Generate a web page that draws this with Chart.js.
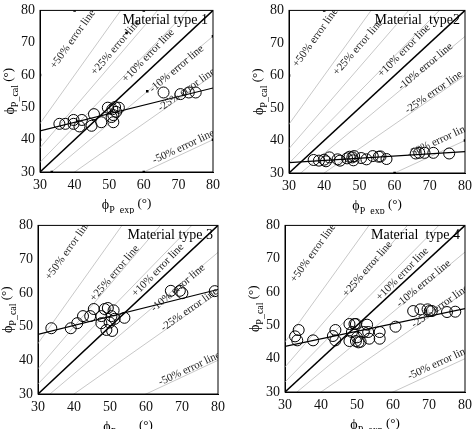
<!DOCTYPE html>
<html><head><meta charset="utf-8">
<script src="https://cdn.jsdelivr.net/npm/chart.js@4"></script>
<style>
body{margin:0;background:#fff;width:474px;height:429px;position:relative;overflow:hidden}
.p{position:absolute;width:237px;height:214px}
</style></head><body>
<div class="p" style="left:0;top:0"><canvas id="c1"></canvas></div>
<div class="p" style="left:237px;top:0"><canvas id="c2"></canvas></div>
<div class="p" style="left:0;top:215px"><canvas id="c3"></canvas></div>
<div class="p" style="left:237px;top:215px"><canvas id="c4"></canvas></div>
<script>
// data
const titles = ['Material type 1', 'Material  type2', 'Material type 3', 'Material  type 4'];
const ticks = [30, 40, 50, 60, 70, 80];
const errorPcts = [50, 25, 10, -10, -25, -50];

const points1 = [[35.6,44.9],[37.3,44.9],[39.7,46.1],[39.7,44.9],[41.4,44.1],[42.1,46.1],[44.9,44.3],[45.6,47.9],[47.7,45.4],[49.6,49.9],[50.9,49.4],[51.2,45.4],[51.2,47.6],[51.7,50.1],[52.8,49.9],[50.7,47],[52,48.6],[65.7,54.6],[70.6,54.1],[73,54.6],[75,54.6]];
const points2 = [[37,34],[38.5,33.8],[40,34.1],[40.5,33.6],[41.5,34.8],[43.8,34.2],[44.5,33.8],[46.5,34.5],[47.2,35],[48,34.8],[48.3,33.9],[48.5,35.2],[50.5,34.6],[52,34.2],[53.8,35.2],[55.5,35],[56,35.1],[57.7,34.3],[66,36],[67,36.2],[68.5,36.2],[71,36.2],[75.5,36]];
const points3 = [[33.7,49.5],[39.1,49.5],[40.9,51],[42.5,53.1],[44.5,53.1],[45.5,55.2],[47.6,53.1],[47.6,51],[48.5,55.2],[49,49],[49.4,55.5],[49.9,51.2],[50.4,53.1],[50.6,48.7],[51,54.8],[51.3,52.3],[54,52.6],[66.9,60.6],[69.4,60.6],[70.1,59.9],[79.1,60.5]];
const points4 = [[32.8,46.7],[33.4,45.5],[33.8,48.6],[37.8,45.5],[43.3,46.8],[44,48.6],[44,45.5],[47.9,50.4],[47.9,45.3],[48.6,48],[49.3,50.4],[49.7,45.3],[49.7,50.4],[50,46.4],[50.4,44.9],[51,45.1],[51.9,48],[52.8,50.2],[53.1,48],[53.4,46],[56.3,48],[56.3,46],[60.7,49.6],[65.6,54.3],[67.6,54.8],[69.6,54.8],[70.2,54.3],[70.8,54.3],[75,54],[77.3,54.1]];

const fit1 = [[30,42.7],[80,56]];
const fit2 = [[30,33.2],[80,36.6]];
const fit3 = [[30,47.7],[80,61]];
const fit4 = [[30,43.7],[80,55]];

const markers1 = [[40,80],[60,80],[80,72],[55,73],[61,55],[80,40],[60,30],[33.4,30],[30,60],[30,40]];
const markers2 = [[40,80],[30,60],[80,40],[60,30]];

// label centres for each error line (data coords)
const labels1 = [[39.5,71.1],[51.9,68.6],[61.3,66],[69.5,61.9],[72.4,55.4],[71.5,37.8]];
const labels2 = [[37.5,71.6],[49.6,68.6],[62.7,67.6],[68.8,62.7],[71.1,54.8],[72.5,39.9]];
const labels3 = [[38.3,72.6],[51.3,65.8],[63.3,66.7],[68.9,61.4],[72.1,55],[72.1,37.5]];
const labels4 = [[37.8,71.7],[52.9,66.9],[62.6,65.4],[68.5,62.5],[73.1,55.7],[72.7,38.7]];

const panels = [
  {id:'c1', pts:points1, fit:fit1, mk:markers1, lab:labels1, box:[40,3,213,172]},
  {id:'c2', pts:points2, fit:fit2, mk:markers2, lab:labels2, box:[52,5,230,173]},
  {id:'c3', pts:points3, fit:fit3, mk:[], lab:labels3, box:[38,8,218,179]},
  {id:'c4', pts:points4, fit:fit4, mk:[], lab:labels4, box:[48,5,230,177]}
];

const serif = '"Liberation Serif", "DejaVu Serif", serif';
const xy = a => a.map(p => ({x:p[0], y:p[1]}));

const decor = {
  id:'decor',
  afterDatasetsDraw(chart, args, o) {
    const {ctx, chartArea:ca, scales:{x, y}} = chart;
    ctx.save();
    ctx.beginPath(); ctx.rect(ca.left, ca.top, ca.width, ca.height); ctx.clip();
    ctx.fillStyle = '#222';
    ctx.font = '11px ' + serif;
    errorPcts.forEach((p, i) => {
      const k = 1 + p / 100;
      const ang = Math.atan2(y.getPixelForValue(80 * k) - y.getPixelForValue(0), x.getPixelForValue(80) - x.getPixelForValue(0));
      const [lx, ly] = o.lab[i];
      ctx.save();
      ctx.translate(x.getPixelForValue(lx), y.getPixelForValue(ly));
      ctx.rotate(ang);
      ctx.textAlign = 'center'; ctx.textBaseline = 'middle';
      ctx.fillText((p > 0 ? '+' : '') + p + '% error line', 0, 0);
      ctx.restore();
    });
    ctx.restore();
    ctx.save();
    ctx.fillStyle = '#000';
    ctx.font = '14px ' + serif;
    ctx.textAlign = 'right'; ctx.textBaseline = 'top';
    ctx.fillText(o.title, ca.right - 5, ca.top + 3);
    // axis titles with subscripts
    const sub = (main, s, cx, cy) => {
      ctx.font = '14px ' + serif;
      const w1 = ctx.measureText(main).width;
      ctx.font = '10px ' + serif;
      const w2 = ctx.measureText(s).width;
      ctx.font = '13px ' + serif;
      const w3 = ctx.measureText(' (°)').width;
      let sx = cx - (w1 + w2 + w3) / 2;
      ctx.textAlign = 'left'; ctx.textBaseline = 'alphabetic';
      ctx.font = '14px ' + serif; ctx.fillText(main, sx, cy); sx += w1;
      ctx.font = '10px ' + serif; ctx.fillText(s, sx, cy + 4); sx += w2;
      ctx.font = '13px ' + serif; ctx.fillText(' (°)', sx, cy - 2);
    };
    sub('\u03D5', 'P_exp', (ca.left + ca.right) / 2, ca.bottom + 37);
    ctx.save();
    ctx.translate(ca.left - 26, (ca.top + ca.bottom) / 2);
    ctx.rotate(-Math.PI / 2);
    sub('\u03D5', 'P_cal', 0, 0);
    ctx.restore();
    ctx.restore();
  }
};

panels.forEach((pn, i) => {
  const [l, t, r, b] = pn.box;
  const errSets = errorPcts.map(p => ({
    type:'line', data:xy([[0,0],[100,100 * (1 + p / 100)]]),
    borderColor:'#c8c8c8', borderWidth:1, pointRadius:0, order:5
  }));
  new Chart(document.getElementById(pn.id), {
    type:'scatter',
    data:{datasets:[
      ...errSets,
      {type:'line', data:xy([[0,0],[100,100]]), borderColor:'#000', borderWidth:1.5, pointRadius:0, order:4},
      {type:'line', data:xy(pn.fit), borderColor:'#000', borderWidth:1.2, pointRadius:0, order:3},
      {data:xy(pn.mk), pointStyle:'rect', pointRadius:1.8, backgroundColor:'#000', borderWidth:0, order:2},
      {data:xy(pn.pts), pointRadius:5.5, borderColor:'#000', borderWidth:1, backgroundColor:'rgba(0,0,0,0)', order:1}
    ]},
    options:{
      responsive:true, maintainAspectRatio:false, animation:false,
      layout:{padding:{left:0, top:t, right:237 - r, bottom:0}},
      plugins:{legend:{display:false}, tooltip:{enabled:false}, decor:{title:titles[i], lab:pn.lab}},
      scales:{
        x:{type:'linear', min:30, max:80,
          afterBuildTicks:s => { s.ticks = ticks.map(v => ({value:v})); },
          afterFit:s => { s.height = 214 - b - t + 0 - 0; s.height = 214 - b; },
          grid:{display:false, drawTicks:true, tickLength:3, tickColor:'#000'},
          border:{color:'#000', width:1},
          ticks:{color:'#111', font:{family:serif, size:14}, padding:2, maxRotation:0}},
        y:{type:'linear', min:30, max:80,
          afterBuildTicks:s => { s.ticks = ticks.map(v => ({value:v})); },
          afterFit:s => { s.width = l; },
          grid:{display:false, drawTicks:true, tickLength:3, tickColor:'#000'},
          border:{color:'#000', width:1},
          ticks:{color:'#111', font:{family:serif, size:14}, padding:2}}
      }
    },
    plugins:[decor,
      {id:'frame', afterDraw(c){ const {ctx, chartArea:a} = c; ctx.save(); ctx.strokeStyle='#000'; ctx.lineWidth=1; ctx.strokeRect(a.left, a.top, a.width, a.height); ctx.restore(); }}]
  });
});
</script>
</body></html>
